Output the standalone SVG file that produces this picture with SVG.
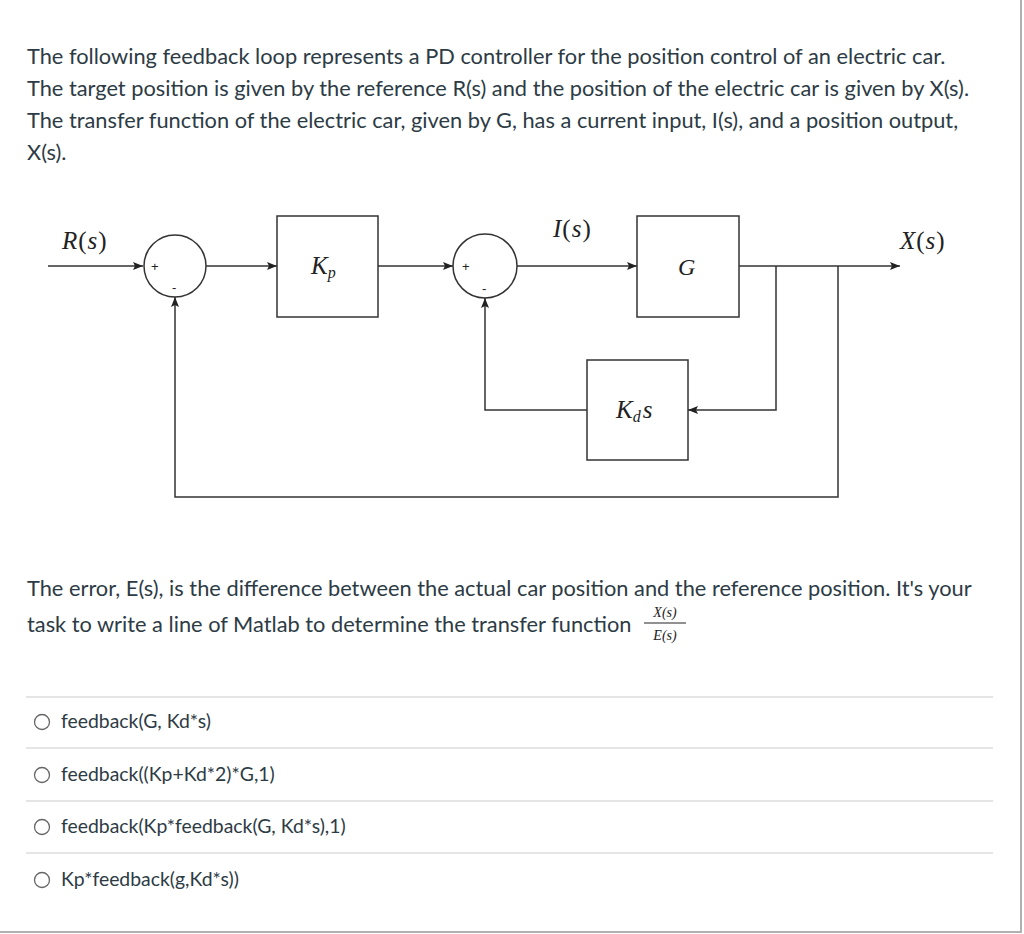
<svg xmlns="http://www.w3.org/2000/svg" width="1024" height="934" viewBox="0 0 1024 934">
<defs>
<marker id="arr" viewBox="0 0 10 10" refX="10" refY="5" markerWidth="10" markerHeight="10" markerUnits="userSpaceOnUse" orient="auto">
<path d="M0,1 L10,5 L0,9 L2,5 Z" fill="#222"/>
</marker>
<style>
.body{font-family:Lato,"Open Sans","Liberation Sans",sans-serif;font-size:21.8px;fill:#2d3b45}
.opt{font-family:Lato,"Open Sans","Liberation Sans",sans-serif;font-size:19.4px;fill:#2d3b45}
.math{font-family:"Liberation Serif","DejaVu Serif",serif;font-style:italic;fill:#222}
.up{font-style:normal}
.box{fill:#fff;stroke:#333;stroke-width:1.5}
.wire{fill:none;stroke:#333;stroke-width:1.5}
.sign{font-family:"Liberation Sans",sans-serif;font-size:13px;fill:#222}
.sep{stroke:#dcdcdc;stroke-width:1.5}
.radio{fill:#fff;stroke:#666;stroke-width:1.3}
</style>
</defs>
<rect width="1024" height="934" fill="#fff"/>
<line x1="1021" y1="0" x2="1021" y2="933" stroke="#b0b0b0" stroke-width="2"/>
<line x1="0" y1="932" x2="1022" y2="932" stroke="#b0b0b0" stroke-width="2"/>

<g id="intro">
<text class="body" x="27" y="64">The following feedback loop represents a PD controller for the position control of an electric car.</text>
<text class="body" x="27" y="96">The target position is given by the reference R(s) and the position of the electric car is given by X(s).</text>
<text class="body" x="27" y="128">The transfer function of the electric car, given by G, has a current input, I(s), and a position output,</text>
<text class="body" x="27" y="160">X(s).</text>
</g>

<g id="connectors">
<line class="wire" x1="48" y1="266" x2="143" y2="266" marker-end="url(#arr)"/>
<line class="wire" x1="206" y1="266" x2="277" y2="266" marker-end="url(#arr)"/>
<line class="wire" x1="378" y1="266" x2="453" y2="266" marker-end="url(#arr)"/>
<line class="wire" x1="517" y1="266" x2="637" y2="266" marker-end="url(#arr)"/>
<line class="wire" x1="739" y1="266" x2="900" y2="266" marker-end="url(#arr)"/>
<polyline class="wire" points="776,266 776,410 688,410" marker-end="url(#arr)"/>
<polyline class="wire" points="587,410 485,410 485,298" marker-end="url(#arr)"/>
<polyline class="wire" points="838,266 838,497 175,497 175,297" marker-end="url(#arr)"/>
</g>

<g id="labels">
<text class="math" x="62" y="249" font-size="25" letter-spacing="1">R<tspan class="up">(</tspan>s<tspan class="up">)</tspan></text>
<text class="math" x="553" y="237" font-size="25" letter-spacing="1">I<tspan class="up">(</tspan>s<tspan class="up">)</tspan></text>
<text class="math" x="900" y="249" font-size="25" letter-spacing="1">X<tspan class="up">(</tspan>s<tspan class="up">)</tspan></text>
</g>

<g id="sum1">
<circle class="box" cx="175" cy="266" r="31"/>
<text class="sign" x="151" y="271">+</text>
<text class="sign" x="172" y="292">-</text>
</g>

<g id="kp">
<rect class="box" x="277" y="216" width="101" height="101"/>
<text class="math" x="311" y="274" font-size="25">K<tspan font-size="16" dy="4">p</tspan></text>
</g>

<g id="sum2">
<circle class="box" cx="485" cy="266" r="32"/>
<text class="sign" x="462" y="271">+</text>
<text class="sign" x="482" y="293">-</text>
</g>

<g id="g">
<rect class="box" x="637" y="216" width="102" height="101"/>
<text class="math" x="678" y="275" font-size="24">G</text>
</g>

<g id="kd">
<rect class="box" x="587" y="360" width="101" height="100"/>
<text class="math" x="616" y="418" font-size="25">K<tspan font-size="16" dy="4">d</tspan><tspan dy="-4" dx="2">s</tspan></text>
</g>

<g id="question">
<text class="body" x="27" y="596">The error, E(s), is the difference between the actual car position and the reference position. It's your</text>
<text class="body" x="27" y="632">task to write a line of Matlab to determine the transfer function</text>
<text class="math" x="665" y="617" font-size="14" text-anchor="middle">X(s)</text>
<line x1="644" y1="623" x2="686" y2="623" stroke="#222" stroke-width="1"/>
<text class="math" x="665" y="640" font-size="14" text-anchor="middle">E(s)</text>
</g>

<g id="options">
<line class="sep" x1="26" y1="697" x2="993" y2="697"/>
<circle class="radio" cx="42" cy="722" r="7.5"/>
<text class="opt" x="61" y="728">feedback(G, Kd*s)</text>
<line class="sep" x1="26" y1="748" x2="993" y2="748"/>
<circle class="radio" cx="42" cy="775" r="7.5"/>
<text class="opt" x="61" y="781">feedback((Kp+Kd*2)*G,1)</text>
<line class="sep" x1="26" y1="801" x2="993" y2="801"/>
<circle class="radio" cx="42" cy="827" r="7.5"/>
<text class="opt" x="61" y="833">feedback(Kp*feedback(G, Kd*s),1)</text>
<line class="sep" x1="26" y1="853" x2="993" y2="853"/>
<circle class="radio" cx="42" cy="880" r="7.5"/>
<text class="opt" x="61" y="886">Kp*feedback(g,Kd*s))</text>
</g>
</svg>
